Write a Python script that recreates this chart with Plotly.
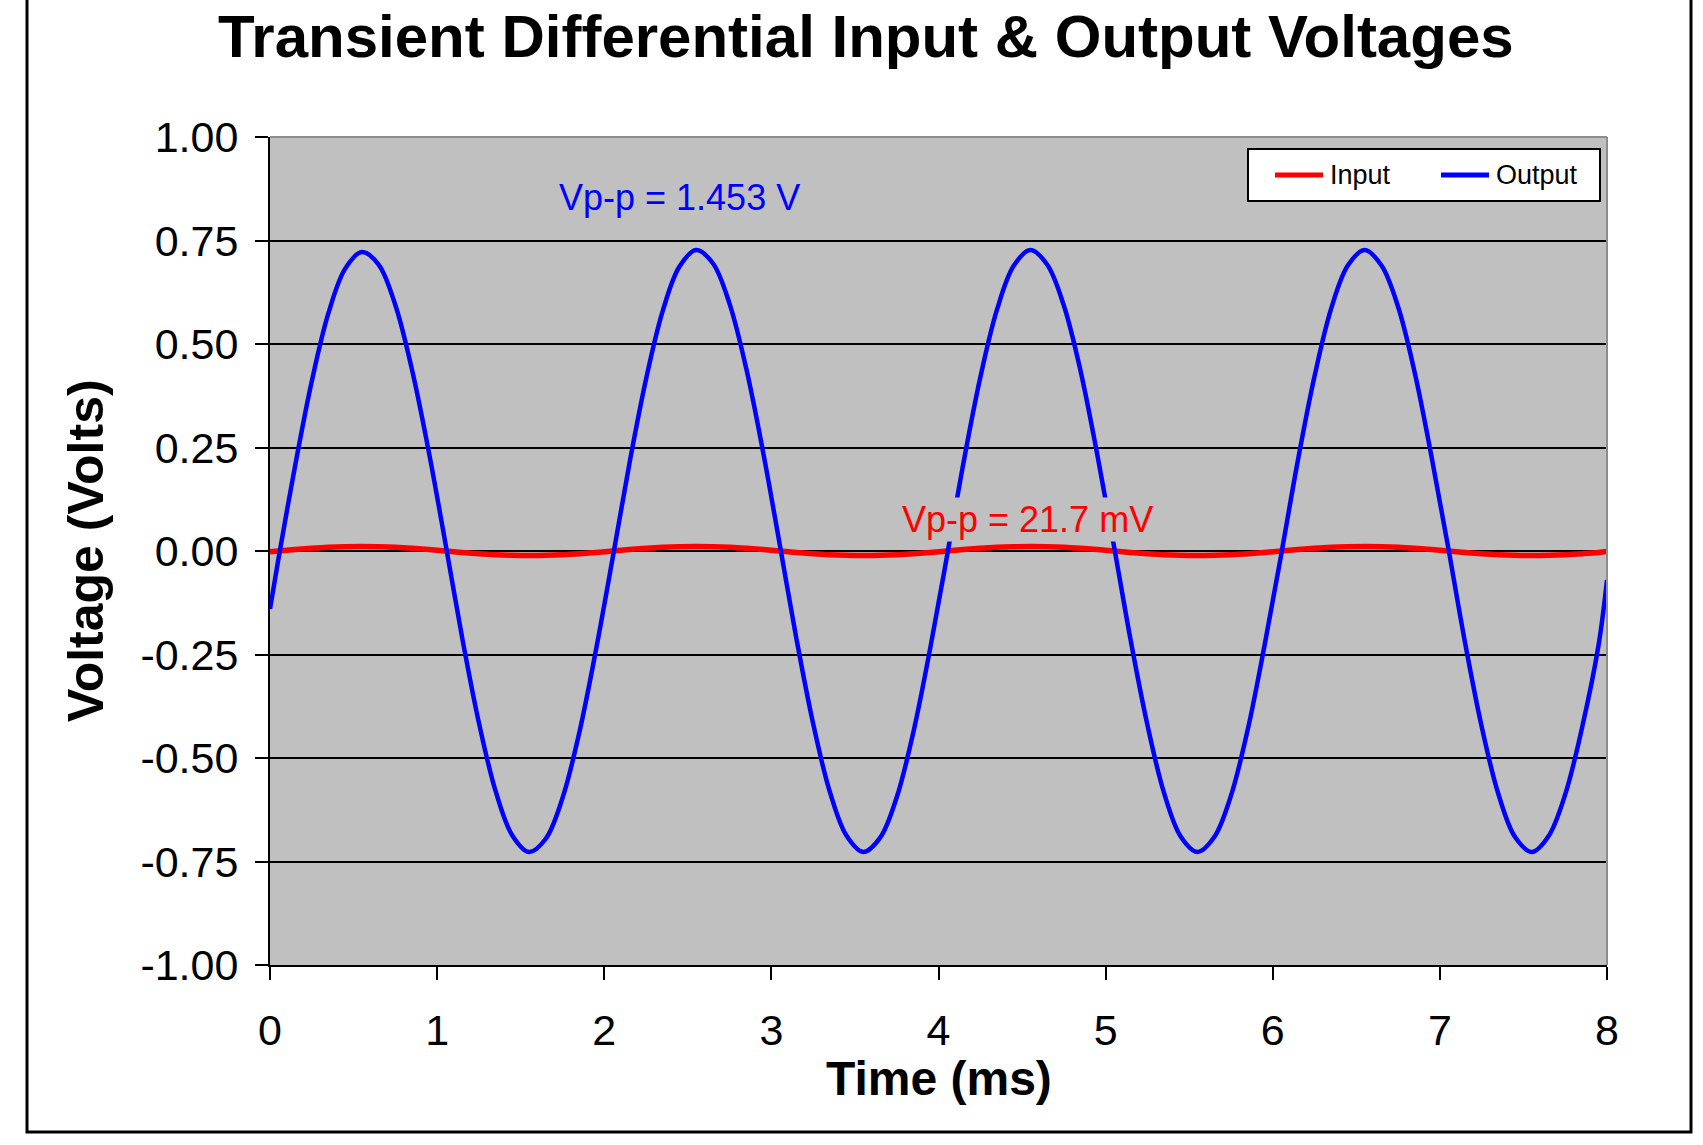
import plotly.graph_objects as go

# ---------------- data ----------------
time_ms = [0.0,
           0.05, 0.15, 0.25, 0.35, 0.45, 0.55, 0.65, 0.75, 0.85, 0.95,
           1.05, 1.15, 1.25, 1.35, 1.45, 1.55, 1.65, 1.75, 1.85, 1.95,
           2.05, 2.15, 2.25, 2.35, 2.45, 2.55, 2.65, 2.75, 2.85, 2.95,
           3.05, 3.15, 3.25, 3.35, 3.45, 3.55, 3.65, 3.75, 3.85, 3.95,
           4.05, 4.15, 4.25, 4.35, 4.45, 4.55, 4.65, 4.75, 4.85, 4.95,
           5.05, 5.15, 5.25, 5.35, 5.45, 5.55, 5.65, 5.75, 5.85, 5.95,
           6.05, 6.15, 6.25, 6.35, 6.45, 6.55, 6.65, 6.75, 6.85, 6.95,
           7.05, 7.15, 7.25, 7.35, 7.45, 7.55, 7.65, 7.75, 7.85, 7.95,
           8.0]

output_v = [-0.140,
            -0.020, 0.205, 0.410, 0.575, 0.682, 0.722, 0.692, 0.594, 0.437, 0.240,
            0.018, -0.210, -0.415, -0.580, -0.687, -0.727, -0.695, -0.597, -0.440, -0.240,
            -0.018, 0.210, 0.415, 0.580, 0.687, 0.727, 0.695, 0.597, 0.440, 0.240,
            0.016, -0.212, -0.417, -0.582, -0.688, -0.727, -0.693, -0.595, -0.437, -0.236,
            -0.014, 0.214, 0.419, 0.583, 0.689, 0.727, 0.692, 0.593, 0.435, 0.233,
            0.012, -0.216, -0.420, -0.585, -0.690, -0.727, -0.691, -0.591, -0.432, -0.230,
            -0.010, 0.218, 0.422, 0.586, 0.690, 0.727, 0.690, 0.590, 0.430, 0.228,
            0.008, -0.220, -0.424, -0.587, -0.691, -0.727, -0.689, -0.588, -0.428, -0.226,
            -0.070]

input_v = [-0.0017,
           0.0000, 0.0034, 0.0064, 0.0088, 0.0103, 0.0109, 0.0103, 0.0088, 0.0064, 0.0034,
           0.0000, -0.0034, -0.0064, -0.0088, -0.0103, -0.0109, -0.0103, -0.0088, -0.0064, -0.0034,
           0.0000, 0.0034, 0.0064, 0.0088, 0.0103, 0.0109, 0.0103, 0.0088, 0.0064, 0.0034,
           0.0000, -0.0034, -0.0064, -0.0088, -0.0103, -0.0109, -0.0103, -0.0088, -0.0064, -0.0034,
           0.0000, 0.0034, 0.0064, 0.0088, 0.0103, 0.0109, 0.0103, 0.0088, 0.0064, 0.0034,
           0.0000, -0.0034, -0.0064, -0.0088, -0.0103, -0.0109, -0.0103, -0.0088, -0.0064, -0.0034,
           0.0000, 0.0034, 0.0064, 0.0088, 0.0103, 0.0109, 0.0103, 0.0088, 0.0064, 0.0034,
           0.0000, -0.0034, -0.0064, -0.0088, -0.0103, -0.0109, -0.0103, -0.0088, -0.0064, -0.0034,
           -0.0010]

series_names = ["Input", "Output"]
series_colors = ["#FF0000", "#0000FF"]
x_ticks = [0, 1, 2, 3, 4, 5, 6, 7, 8]
y_ticks = [-1.00, -0.75, -0.50, -0.25, 0.00, 0.25, 0.50, 0.75, 1.00]
title_text = "Transient Differential Input & Output Voltages"
x_title = "Time (ms)"
y_title = "Voltage (Volts)"
out_note = "Vp-p = 1.453 V"
in_note = "Vp-p = 21.7 mV"

# ---------------- layout geometry (pixels) ----------------
W, H = 1703, 1145
L, R, T, B = 270, 1607, 137, 965
PW, PH = R - L, B - T


def px(x):
    return (x - L) / PW


def py(y):
    return (B - y) / PH


FONT = "Arial, 'Liberation Sans', Helvetica, sans-serif"
TICKFONT = dict(size=43, family=FONT, color="black")

fig = go.Figure()
fig.add_trace(go.Scatter(x=time_ms, y=input_v, name=series_names[0], mode="lines",
                         line=dict(color=series_colors[0], width=5.5, shape="spline")))
fig.add_trace(go.Scatter(x=time_ms, y=output_v, name=series_names[1], mode="lines",
                         line=dict(color=series_colors[1], width=4.5, shape="spline")))

fig.update_layout(
    width=W, height=H, autosize=False,
    margin=dict(l=L, r=W - R, t=T, b=H - B, pad=0),
    paper_bgcolor="white", plot_bgcolor="#C0C0C0",
    font=dict(family=FONT, color="black"),
    showlegend=False,
    xaxis=dict(range=[0, 8], tickvals=x_ticks, ticktext=[str(v) for v in x_ticks],
               showgrid=False, zeroline=False, showline=True, linecolor="black", linewidth=2,
               ticks="outside", ticklen=13, tickwidth=2, tickcolor="black",
               tickfont=TICKFONT, ticklabelstandoff=13),
    yaxis=dict(range=[-1, 1], tickvals=y_ticks, ticktext=[f"{v:.2f}" for v in y_ticks],
               showgrid=True, gridcolor="black", gridwidth=2, zeroline=False,
               showline=True, linecolor="black", linewidth=2,
               ticks="outside", ticklen=13, tickwidth=2, tickcolor="black",
               tickfont=TICKFONT, ticklabelstandoff=8),
)

# plot-area border (top/right grey) and outer chart frame
fig.add_shape(type="line", xref="paper", yref="paper", x0=0, x1=1, y0=1, y1=1,
              line=dict(color="#8C8C8C", width=2), layer="above")
fig.add_shape(type="line", xref="paper", yref="paper", x0=1, x1=1, y0=0, y1=1,
              line=dict(color="#8C8C8C", width=2), layer="above")
fig.add_shape(type="rect", xref="paper", yref="paper",
              x0=px(27), x1=px(1691), y0=py(1132), y1=py(-20),
              line=dict(color="black", width=3), layer="above")

# legend box (Excel-style)
fig.add_shape(type="rect", xref="paper", yref="paper",
              x0=px(1248), x1=px(1600), y0=py(201), y1=py(149),
              fillcolor="white", line=dict(color="black", width=2), layer="above")
legend_line_x = [(1275, 1323), (1441, 1489)]
legend_text_x = [1328, 1494]
for name, color, (lx0, lx1), tx in zip(series_names, series_colors, legend_line_x, legend_text_x):
    fig.add_shape(type="line", xref="paper", yref="paper",
                  x0=px(lx0), x1=px(lx1), y0=py(175), y1=py(175),
                  line=dict(color=color, width=5), layer="above")
    fig.add_annotation(text=name, xref="paper", yref="paper", x=px(tx), y=py(175),
                       xanchor="left", yanchor="middle", showarrow=False,
                       font=dict(size=27, family=FONT, color="black"))

# title and axis titles
fig.add_annotation(text=title_text, xref="paper", yref="paper", x=px(866), y=py(37),
                   xanchor="center", yanchor="middle", showarrow=False,
                   font=dict(size=60, family=FONT, color="black", weight="bold"))
fig.add_annotation(text=x_title, xref="paper", yref="paper", x=px(939), y=py(1078),
                   xanchor="center", yanchor="middle", showarrow=False,
                   font=dict(size=48, family=FONT, color="black", weight="bold"))
fig.add_annotation(text=y_title, xref="paper", yref="paper", x=px(86), y=py(551),
                   xanchor="center", yanchor="middle", showarrow=False, textangle=-90,
                   font=dict(size=50, family=FONT, color="black", weight="bold"))

# value notes
fig.add_annotation(text=out_note, x=2.45, y=0.853, xref="x", yref="y", showarrow=False,
                   font=dict(size=36, family=FONT, color="#0000FF"))
fig.add_annotation(text=in_note, x=4.53, y=0.077, xref="x", yref="y", showarrow=False,
                   bgcolor="#C0C0C0", font=dict(size=36, family=FONT, color="#FF0000"))

fig.write_html("out.html")
